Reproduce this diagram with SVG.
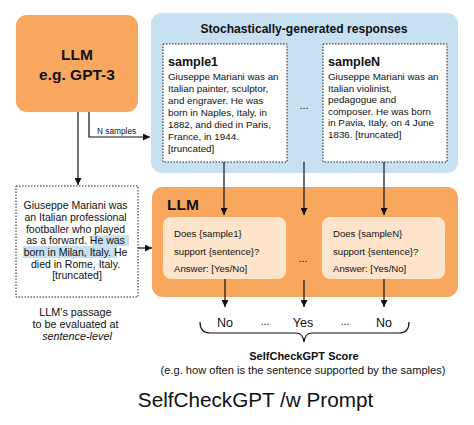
<svg xmlns="http://www.w3.org/2000/svg" width="474" height="425" viewBox="0 0 474 425">
<defs>
<marker id="ah" viewBox="0 0 10 10" refX="10" refY="5" markerWidth="7" markerHeight="7" markerUnits="userSpaceOnUse" orient="auto"><path d="M0,0 L10,5 L0,10 z" fill="#111"/></marker>
<style>
text{font-family:"Liberation Sans",Arial,sans-serif;fill:#111}
.orange{fill:#F9A75E}
.blue{fill:#C7E0F2}
.peach{fill:#FDE4CA}
.dot{fill:#fff;stroke:#222;stroke-width:1;stroke-dasharray:1.5 1.5}
.b{font-weight:bold}
.s{font-size:10.5px}
.sm{font-size:9.8px}
.p{font-size:9.6px}
.c{text-anchor:middle}
.conn{stroke:#111;stroke-width:1.2;fill:none}
.hl{fill:#C7E0F2}
</style>
</defs>
<rect width="474" height="425" fill="#fff"/>

<g id="llm-top">
<rect x="16" y="15" width="122" height="97" rx="11" class="orange"/>
<text x="77" y="60" class="b c" font-size="15.5">LLM</text>
<text x="77" y="80" class="b c" font-size="15.5">e.g. GPT-3</text>
</g>

<g id="responses">
<rect x="151" y="13" width="307" height="160" rx="11" class="blue"/>
<text x="304" y="33" class="b c" font-size="12.1">Stochastically-generated responses</text>
<text x="304" y="109" class="c" font-size="11">...</text>
</g>

<g id="sample1">
<rect x="163" y="44" width="124" height="118" class="dot"/>
<text x="168" y="66" class="b" font-size="12.5">sample1</text>
<text class="sm">
<tspan x="168" y="80">Giuseppe Mariani was an</tspan>
<tspan x="168" y="92">Italian painter, sculptor,</tspan>
<tspan x="168" y="104">and engraver. He was</tspan>
<tspan x="168" y="116">born in Naples, Italy, in</tspan>
<tspan x="168" y="128">1882, and died in Paris,</tspan>
<tspan x="168" y="140">France, in 1944.</tspan>
<tspan x="168" y="152">[truncated]</tspan>
</text>
</g>

<g id="sampleN">
<rect x="323" y="44" width="124" height="118" class="dot"/>
<text x="328" y="66" class="b" font-size="12.5">sampleN</text>
<text class="sm">
<tspan x="328" y="80">Giuseppe Mariani was an</tspan>
<tspan x="328" y="91.5">Italian violinist,</tspan>
<tspan x="328" y="103">pedagogue and</tspan>
<tspan x="328" y="114.5">composer. He was born</tspan>
<tspan x="328" y="126">in Pavia, Italy, on 4 June</tspan>
<tspan x="328" y="137.5">1836. [truncated]</tspan>
</text>
</g>

<g id="llm-check">
<rect x="152" y="187" width="306" height="110" rx="11" class="orange"/>
<text x="167" y="210" class="b" font-size="15.5">LLM</text>
<text x="303" y="262" class="c" font-size="11">...</text>
</g>

<g id="prompt1">
<rect x="163" y="217" width="123" height="62" rx="8" class="peach"/>
<text class="p">
<tspan x="174" y="237">Does {sample1}</tspan>
<tspan x="174" y="255">support {sentence}?</tspan>
<tspan x="174" y="272">Answer: [Yes/No]</tspan>
</text>
</g>

<g id="promptN">
<rect x="322" y="217" width="123" height="62" rx="8" class="peach"/>
<text class="p">
<tspan x="333" y="237">Does {sampleN}</tspan>
<tspan x="333" y="255">support {sentence}?</tspan>
<tspan x="333" y="272">Answer: [Yes/No]</tspan>
</text>
</g>

<g id="passage">
<rect x="16" y="186" width="122" height="111" class="dot"/>
<rect x="92" y="235" width="37" height="11" class="hl"/>
<rect x="23" y="246" width="94" height="12" class="hl"/>
<text class="s c">
<tspan x="77" y="209">Giuseppe Mariani was</tspan>
<tspan x="77" y="221">an Italian professional</tspan>
<tspan x="77" y="232.5">footballer who played</tspan>
<tspan x="77" y="244">as a forward. He was</tspan>
<tspan x="77" y="256">born in Milan, Italy. He</tspan>
<tspan x="77" y="267.5">died in Rome, Italy.</tspan>
<tspan x="77" y="279">[truncated]</tspan>
</text>
</g>

<g id="passage-caption">
<text class="c" font-size="10.8">
<tspan x="77" y="316">LLM's passage</tspan>
<tspan x="77" y="328">to be evaluated at</tspan>
<tspan x="77" y="340" font-style="italic">sentence-level</tspan>
</text>
</g>

<g id="answers">
<text x="225" y="327" class="c" font-size="12.5">No</text>
<text x="265" y="325" class="c" font-size="11">...</text>
<text x="303" y="327" class="c" font-size="12.5">Yes</text>
<text x="345" y="325" class="c" font-size="11">...</text>
<text x="384" y="327" class="c" font-size="12.5">No</text>
</g>

<g id="score">
<path d="M200,322 Q200,333 210,333 L296,333 Q303,333 304,342 Q305,333 312,333 L399,333 Q409,333 409,322" class="conn"/>
<text x="304" y="360" class="b c" font-size="11">SelfCheckGPT Score</text>
<text x="303" y="374" class="c" font-size="11.1">(e.g. how often is the sentence supported by the samples)</text>
</g>

<g id="title">
<text x="255.5" y="407" class="c" font-size="20.7">SelfCheckGPT /w Prompt</text>
</g>

<g id="connectors">
<path d="M78,112 V185" class="conn" marker-end="url(#ah)"/>
<path d="M89,112 V137 H150" class="conn" marker-end="url(#ah)"/>
<text x="97" y="134" font-size="8.3">N samples</text>
<path d="M224,162 V215" class="conn" marker-end="url(#ah)"/>
<path d="M304,162 V215" class="conn" marker-end="url(#ah)"/>
<path d="M384,162 V215" class="conn" marker-end="url(#ah)"/>
<path d="M138,248 H152" class="conn" marker-end="url(#ah)"/>
<path d="M225,279 V307" class="conn" marker-end="url(#ah)"/>
<path d="M304,280 V307" class="conn" marker-end="url(#ah)"/>
<path d="M384,279 V307" class="conn" marker-end="url(#ah)"/>
</g>
</svg>
